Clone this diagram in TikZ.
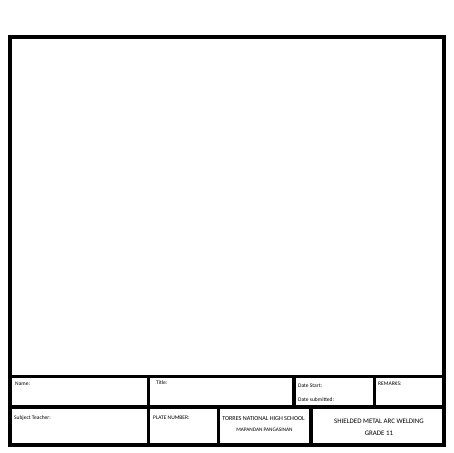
\documentclass[tikz,border=0pt]{standalone}
\usepackage{fontspec}
\setmainfont{Carlito}
\tikzset{
  frame/.style={line width=3.6pt},
  lbl/.style={anchor=west,inner sep=0pt,font=\fontsize{5.5}{6.5}\selectfont},
  mid/.style={inner sep=0pt,align=center}
}
\begin{document}
\begin{tikzpicture}[x=1pt,y=-1pt]
\useasboundingbox (0,0) rectangle (453,453);
% sheet border and title block
\draw[frame] (9.8,36.8) rectangle (443.7,444.7);
\draw[frame] (9.8,376.3) -- (443.7,376.3);
\draw[frame] (9.8,407.2) -- (443.7,407.2);
\draw[frame] (148.6,376.3) -- (148.6,444.7);
\draw[frame] (294.2,376.3) -- (294.2,407.2);
\draw[frame] (374.3,376.3) -- (374.3,407.2);
\draw[frame] (218.6,407.2) -- (218.6,444.7);
\draw[frame] (310.9,407.2) -- (310.9,444.7);
% first row
\node[lbl] (name) at (15,383.5){Name:};
\node[lbl] (title) at (156,382.5){Title:};
\node[lbl] (start) at (298,386){Date Start:};
\node[lbl] (submitted) at (298,399.5){Date submitted:};
\node[lbl] (remarks) at (378,383.5){REMARKS:};
% second row
\node[lbl] (teacher) at (14,418){Subject Teacher:};
\node[lbl] (plate) at (153,418){PLATE NUMBER:};
\node[mid,font=\fontsize{6.1}{7.1}\selectfont] (school) at (263.5,418.5){TORRES NATIONAL HIGH SCHOOL};
\node[mid,font=\fontsize{5.3}{6.3}\selectfont] (town) at (264.5,430){MAPANDAN PANGASINAN};
\node[mid,font=\fontsize{6.9}{7.9}\selectfont] (course) at (379,421){SHIELDED METAL ARC WELDING};
\node[mid,font=\fontsize{6.9}{7.9}\selectfont] (grade) at (379,433.5){GRADE 11};
\end{tikzpicture}
\end{document}
